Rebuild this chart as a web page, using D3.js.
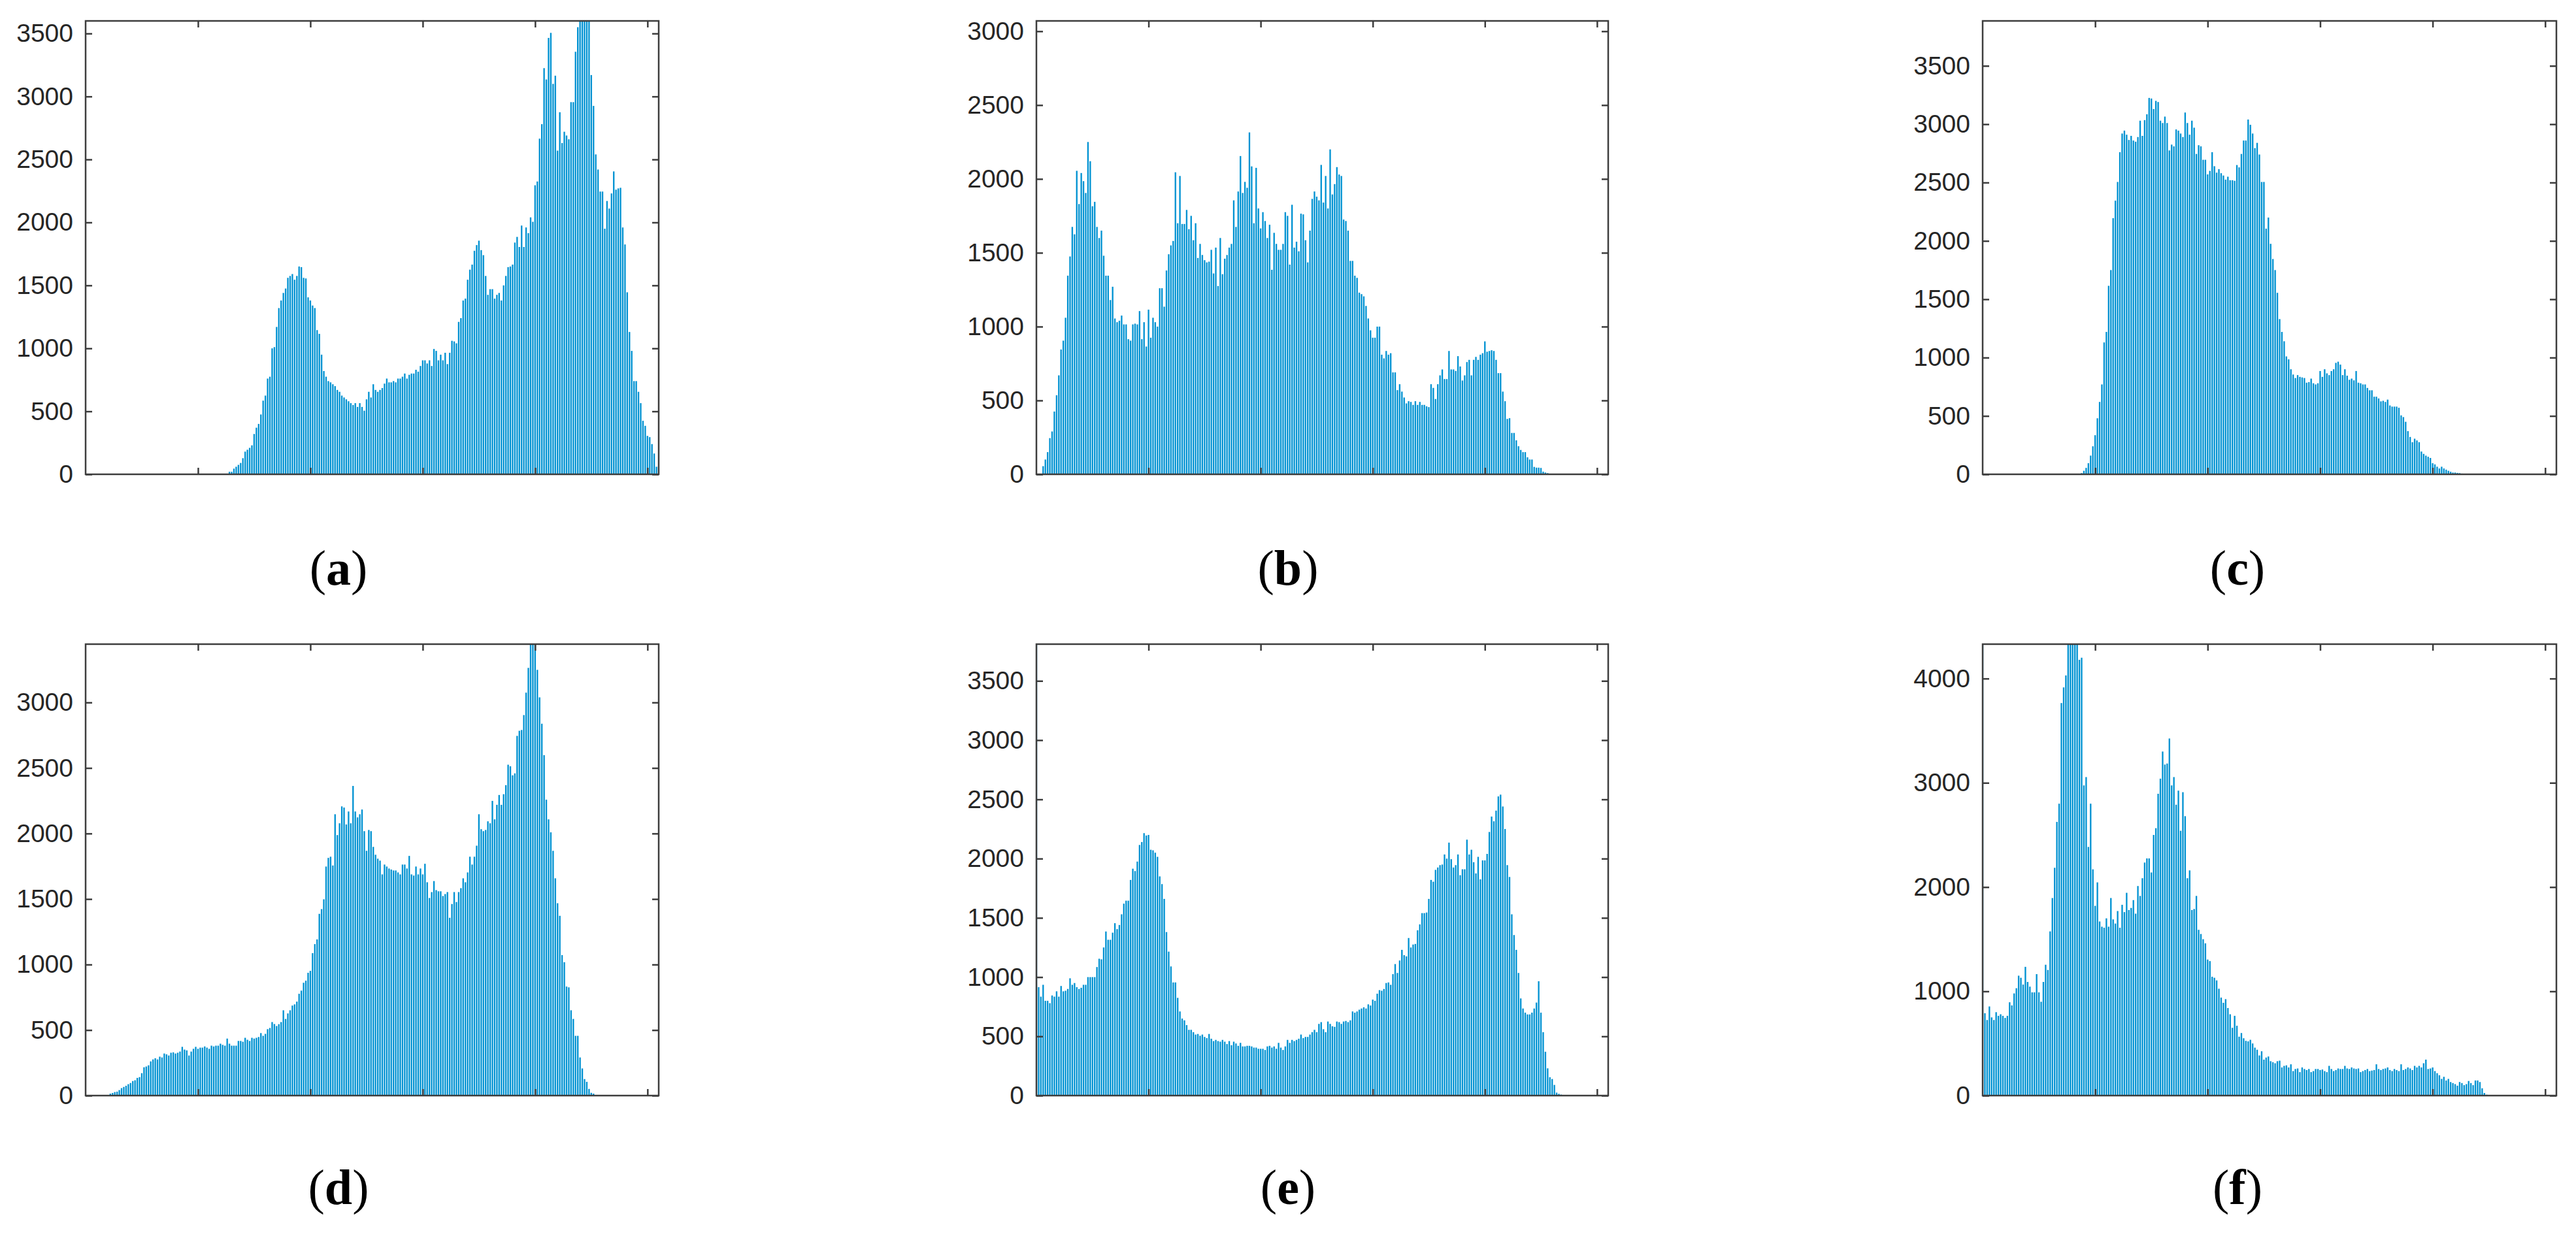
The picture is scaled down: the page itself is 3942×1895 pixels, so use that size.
<!DOCTYPE html>
<html>

<head>
    <meta charset="utf-8">
    <script src="https://d3js.org/d3.v7.min.js"></script>
    <style>
        body {
            margin: 0;
            background-color: #ffffff;
        }

        .tick text {
            font-family: 'Liberation Sans', Arial, sans-serif;
            font-size: 39px;
            fill: #262626;
        }

        .panel-label {
            font-family: 'Liberation Serif', 'Times New Roman', serif;
            font-size: 76px;
            fill: #000000;
        }
    </style>
    <title>Histograms</title>
</head>

<body>
    <svg id="figure" width="3942" height="1895"></svg>

    <script>
        // histogram counts per grey level, each list starts at its first non-empty bin
        const panelNames = ["a", "b", "c", "d", "e", "f"];

        const startA = 64;
        const countsA = [20, 20, 45, 60, 75, 90, 128, 180, 195, 210, 230, 320, 370, 400, 475, 585, 625, 760, 775, 1000,
            1010, 1170, 1320, 1380, 1440, 1475, 1560, 1575, 1590, 1545, 1575, 1650, 1645, 1560, 1555, 1405, 1380, 1340, 1320, 1145,
            1115, 950, 820, 775, 740, 730, 715, 700, 670, 655, 625, 610, 595, 580, 565, 550, 565, 535, 565, 535,
            505, 595, 655, 610, 715, 670, 655, 670, 685, 720, 760, 730, 730, 740, 730, 760, 760, 775, 800, 760,
            790, 800, 800, 830, 815, 860, 905, 905, 880, 905, 860, 995, 980, 905, 950, 905, 965, 875, 965, 1060,
            1055, 1040, 1210, 1240, 1380, 1395, 1545, 1625, 1665, 1775, 1820, 1855, 1780, 1740, 1575, 1425, 1470, 1470, 1395, 1425,
            1440, 1380, 1500, 1575, 1645, 1650, 1665, 1840, 1885, 1805, 1975, 1805, 1960, 1915, 2040, 2005, 2295, 2325, 2665, 2780,
            3225, 3135, 3465, 3505, 3100, 3165, 2570, 2875, 2630, 2720, 2690, 2660, 2955, 2955, 3355, 3550, 3600, 3600, 3600, 3600,
            3600, 3170, 2925, 2540, 2420, 2245, 2245, 1950, 2170, 2110, 2230, 2405, 2260, 2270, 2275, 1960, 1825, 1445, 1130, 980,
            740, 740, 655, 565, 425, 385, 305, 295, 240, 165, 60, 60];

        const startB = 3;
        const countsB = [55, 100, 150, 245, 290, 425, 535, 670, 845, 905, 1060, 1345, 1475, 1675, 1625, 2055, 1830, 2040, 1985, 1905,
            2250, 2120, 1815, 1845, 1675, 1600, 1650, 1480, 1345, 1345, 1180, 1270, 1055, 1030, 1040, 1075, 1015, 1015, 915, 905,
            1015, 1020, 1015, 1105, 915, 1030, 865, 1115, 925, 1060, 1030, 1000, 1260, 1260, 1135, 1380, 1490, 1550, 1580, 2045,
            1700, 2020, 1695, 1695, 1790, 1660, 1750, 1585, 1700, 1465, 1560, 1485, 1450, 1435, 1440, 1520, 1360, 1535, 1275, 1600,
            1355, 1460, 1485, 1535, 1560, 1855, 1675, 1915, 2155, 1905, 1980, 1940, 2315, 2085, 1700, 2075, 1800, 1665, 1775, 1715,
            1600, 1690, 1385, 1635, 1560, 1520, 1520, 1560, 1775, 1750, 1420, 1825, 1535, 1575, 1510, 1765, 1760, 1585, 1435, 1650,
            1865, 1915, 1880, 1855, 2095, 1840, 2020, 1800, 2200, 1895, 1965, 2080, 2030, 2020, 1725, 1715, 1650, 1445, 1445, 1345,
            1330, 1230, 1220, 1205, 1140, 1055, 975, 925, 925, 1000, 1000, 810, 785, 835, 810, 820, 690, 690, 570, 610,
            560, 520, 480, 495, 490, 470, 495, 470, 490, 470, 470, 460, 455, 610, 585, 510, 610, 670, 710, 645,
            645, 835, 710, 710, 700, 800, 730, 635, 670, 760, 775, 670, 775, 795, 775, 810, 820, 900, 830, 835,
            840, 835, 775, 685, 685, 560, 495, 375, 380, 280, 280, 230, 190, 165, 150, 150, 115, 100, 100, 50,
            45, 45, 43, 18, 12, 8];

        const startC = 44;
        const countsC = [10, 30, 55, 95, 160, 240, 335, 480, 620, 770, 1130, 1220, 1615, 1750, 2195, 2345, 2505, 2760, 2920, 2945,
            2910, 2865, 2900, 2860, 2850, 2890, 3030, 2900, 3035, 3085, 3225, 3220, 3130, 3200, 3190, 3030, 3010, 3065, 3010, 2775,
            2825, 2810, 2955, 2945, 2920, 2890, 3100, 3010, 2910, 3030, 2970, 2745, 2820, 2810, 2695, 2695, 2570, 2600, 2760, 2640,
            2585, 2615, 2580, 2560, 2525, 2550, 2520, 2520, 2515, 2650, 2630, 2745, 2860, 2860, 3040, 2995, 2920, 2795, 2840, 2740,
            2505, 2505, 2105, 2200, 1975, 1845, 1750, 1555, 1330, 1220, 1140, 1010, 985, 900, 855, 825, 850, 835, 830, 825,
            785, 790, 820, 780, 770, 780, 885, 835, 900, 865, 850, 885, 900, 955, 965, 940, 850, 900, 845, 810,
            820, 805, 885, 785, 780, 770, 770, 740, 720, 720, 665, 665, 650, 625, 630, 620, 640, 590, 580, 580,
            580, 570, 505, 490, 450, 370, 320, 275, 305, 290, 275, 195, 175, 160, 150, 140, 95, 85, 65, 50,
            65, 50, 40, 30, 22, 15, 15, 12, 10, 6];

        const startD = 11;
        const countsD = [15, 20, 27, 30, 42, 57, 66, 75, 87, 96, 111, 117, 135, 141, 171, 216, 222, 231, 261, 276,
            285, 276, 297, 291, 321, 315, 306, 327, 330, 321, 327, 336, 372, 351, 345, 306, 336, 357, 372, 357,
            366, 366, 375, 366, 357, 381, 375, 381, 381, 396, 387, 381, 435, 396, 381, 381, 381, 417, 417, 411,
            441, 426, 417, 441, 435, 441, 447, 477, 456, 471, 507, 516, 561, 546, 531, 545, 561, 651, 585, 627,
            651, 687, 696, 717, 777, 801, 861, 877, 937, 952, 1087, 1156, 1192, 1387, 1423, 1498, 1748, 1814, 1823, 1756,
            2147, 1988, 2078, 2207, 2198, 2069, 2168, 2078, 2363, 2168, 2123, 2147, 2183, 2018, 1868, 2027, 2018, 1898, 1838, 1808,
            1793, 1688, 1763, 1748, 1733, 1725, 1718, 1718, 1703, 1688, 1763, 1763, 1733, 1829, 1688, 1679, 1748, 1688, 1733, 1688,
            1769, 1628, 1508, 1553, 1637, 1568, 1559, 1559, 1523, 1538, 1553, 1357, 1462, 1553, 1477, 1553, 1583, 1658, 1628, 1703,
            1823, 1763, 1823, 1907, 2147, 2033, 2018, 2027, 2093, 2078, 2249, 2108, 2219, 2294, 2219, 2300, 2369, 2525, 2513, 2444,
            2459, 2745, 2784, 2790, 2904, 3075, 3264, 3445, 3445, 3445, 3249, 3039, 2838, 2598, 2258, 2108, 2009, 1868, 1658, 1468,
            1372, 1072, 1018, 832, 826, 651, 585, 456, 456, 291, 207, 126, 105, 51, 21, 15];

        const startE = 0;
        const countsE = [3810, 915, 835, 935, 800, 800, 780, 845, 835, 880, 835, 925, 880, 885, 900, 990, 935, 950, 915, 900,
            910, 935, 935, 1000, 1000, 1000, 1000, 1085, 1155, 1150, 1250, 1385, 1315, 1315, 1375, 1455, 1405, 1440, 1530, 1620,
            1645, 1645, 1820, 1915, 1895, 1975, 2115, 2140, 2215, 2195, 2200, 2075, 2070, 2050, 2015, 1850, 1785, 1660, 1380, 1215,
            1090, 955, 955, 825, 710, 650, 635, 595, 555, 555, 535, 515, 520, 505, 515, 495, 485, 520, 480, 460,
            470, 460, 455, 470, 455, 435, 460, 425, 455, 440, 420, 445, 415, 415, 420, 420, 415, 405, 405, 395,
            395, 395, 385, 415, 420, 405, 415, 395, 445, 405, 385, 415, 470, 445, 470, 460, 470, 480, 515, 485,
            495, 495, 515, 535, 555, 535, 605, 620, 560, 535, 625, 605, 585, 580, 625, 620, 605, 625, 630, 620,
            635, 710, 700, 710, 725, 735, 745, 735, 770, 760, 810, 800, 860, 890, 885, 900, 950, 955, 935, 1025,
            1110, 1035, 1140, 1230, 1185, 1175, 1330, 1250, 1275, 1280, 1395, 1445, 1540, 1540, 1545, 1660, 1820, 1805, 1905, 1925,
            1945, 1950, 2035, 2000, 2135, 1995, 1925, 1945, 2035, 1860, 1910, 1910, 2160, 2035, 2075, 1970, 1875, 2015, 1825, 1985,
            1985, 2040, 2225, 2355, 2315, 2405, 2525, 2540, 2440, 2250, 1945, 1845, 1530, 1355, 1230, 1035, 820, 735, 700, 685,
            685, 700, 735, 785, 965, 700, 535, 370, 230, 155, 140, 90, 25, 15, 8];

        const startF = 0;
        const countsF = [4330, 790, 725, 855, 750, 725, 800, 765, 780, 765, 745, 765, 895, 865, 980, 1030, 1150, 1130, 1065, 1235,
            1090, 1045, 990, 990, 1165, 990, 900, 1090, 1255, 1205, 1575, 1895, 2185, 2625, 2800, 3765, 3915, 4030, 4330, 4330,
            4330, 4330, 4330, 4180, 4200, 2975, 3055, 2385, 2800, 2170, 1820, 2045, 1670, 1620, 1610, 1700, 1620, 1895, 1690, 1650,
            1770, 1610, 1830, 1760, 1945, 1780, 1800, 1875, 1745, 2010, 1915, 2085, 2235, 2275, 2275, 2140, 2500, 2565, 2895, 3040,
            3300, 3175, 3185, 3425, 2975, 3055, 2790, 2925, 2540, 2910, 2680, 2085, 2160, 1780, 1790, 1915, 1590, 1550, 1500, 1460,
            1305, 1290, 1140, 1130, 1105, 1025, 940, 890, 925, 840, 780, 650, 765, 670, 565, 600, 550, 525, 520, 535,
            500, 460, 440, 385, 425, 345, 365, 375, 330, 320, 310, 330, 335, 270, 285, 290, 270, 300, 235, 255,
            260, 225, 270, 255, 245, 255, 225, 235, 255, 255, 245, 250, 235, 225, 285, 255, 235, 245, 260, 255,
            255, 285, 260, 255, 270, 260, 255, 260, 225, 235, 245, 255, 235, 240, 245, 300, 255, 245, 255, 260,
            270, 245, 235, 255, 245, 235, 300, 245, 255, 270, 260, 245, 285, 270, 285, 270, 310, 345, 255, 260,
            270, 235, 215, 195, 160, 180, 145, 160, 130, 120, 110, 95, 130, 120, 100, 110, 140, 120, 100, 145,
            145, 130, 70, 25, 8];

        const yMaxes = [3600, 3070, 3885, 3445, 3810, 4330];
        const yTicksA = [0, 500, 1000, 1500, 2000, 2500, 3000, 3500];
        const yTicksB = [0, 500, 1000, 1500, 2000, 2500, 3000];
        const yTicksC = [0, 500, 1000, 1500, 2000, 2500, 3000, 3500];
        const yTicksD = [0, 500, 1000, 1500, 2000, 2500, 3000];
        const yTicksE = [0, 500, 1000, 1500, 2000, 2500, 3000, 3500];
        const yTicksF = [0, 1000, 2000, 3000, 4000];
        const xTicks = [50, 100, 150, 200, 250];

        var canvas = d3.select("#figure");

        // plot boxes, pixels
        var colLeft = [131, 1586, 3034];
        var colRight = [1008, 2461, 3912];
        var rowTop = [32, 986];
        var rowBottom = [726, 1677];
        var labelX = [518, 1971, 3424];
        var labelBase = [895, 1843];

        var barColor = "#0092d2";
        var axisColor = "#3d3d3d";

        function drawPanel(idx, start, counts, yMax, yTicks) {
            var col = idx % 3;
            var row = Math.floor(idx / 3);
            var left = colLeft[col], right = colRight[col];
            var top = rowTop[row], bottom = rowBottom[row];

            var xScale = d3.scaleLinear()
                .domain([0, 255])
                .range([left, right]);
            var yScale = d3.scaleLinear()
                .domain([0, yMax])
                .range([bottom, top]);

            var barW = (right - left) / 255 * 0.68;

            var group = canvas.append("g");

            group.append("clipPath")
                .attr("id", "clip" + idx)
                .append("rect")
                .attr("x", left)
                .attr("y", top)
                .attr("width", right - left)
                .attr("height", bottom - top);

            group.append("g")
                .attr("clip-path", "url(#clip" + idx + ")")
                .selectAll("rect")
                .data(counts)
                .enter()
                .append("rect")
                .attr("x", function (d, i) {
                    return xScale(start + i) - barW / 2;
                })
                .attr("y", function (d) {
                    return yScale(d);
                })
                .attr("width", barW)
                .attr("height", function (d) {
                    return yScale(0) - yScale(d);
                })
                .style("fill", barColor);

            // inward ticks on all four sides, labels only on the left
            var yLeft = group.append("g")
                .attr("transform", "translate(" + left + ",0)")
                .call(d3.axisLeft(yScale)
                    .tickValues(yTicks)
                    .tickSizeInner(-10)
                    .tickSizeOuter(0)
                    .tickPadding(19)
                    .tickFormat(d3.format("d")));

            var yRight = group.append("g")
                .attr("transform", "translate(" + right + ",0)")
                .call(d3.axisRight(yScale)
                    .tickValues(yTicks)
                    .tickSizeInner(-10)
                    .tickSizeOuter(0)
                    .tickFormat(""));

            var xBottom = group.append("g")
                .attr("transform", "translate(0," + bottom + ")")
                .call(d3.axisBottom(xScale)
                    .tickValues(xTicks)
                    .tickSizeInner(-10)
                    .tickSizeOuter(0)
                    .tickFormat(""));

            var xTop = group.append("g")
                .attr("transform", "translate(0," + top + ")")
                .call(d3.axisTop(xScale)
                    .tickValues(xTicks)
                    .tickSizeInner(-10)
                    .tickSizeOuter(0)
                    .tickFormat(""));

            [yLeft, yRight, xBottom, xTop].forEach(function (ax) {
                ax.select(".domain").remove();
                ax.selectAll("line")
                    .style("stroke", axisColor)
                    .style("stroke-width", "2.5px");
                ax.attr("font-family", null).attr("font-size", null);
            });

            group.append("rect")
                .attr("x", left)
                .attr("y", top)
                .attr("width", right - left)
                .attr("height", bottom - top)
                .style("fill", "none")
                .style("stroke", axisColor)
                .style("stroke-width", "2.5px");

            var label = group.append("text")
                .attr("class", "panel-label")
                .attr("x", labelX[col])
                .attr("y", labelBase[row])
                .attr("text-anchor", "middle");
            label.append("tspan").text("(");
            label.append("tspan").style("font-weight", "bold").text(panelNames[idx]);
            label.append("tspan").text(")");
        }

        drawPanel(0, startA, countsA, yMaxes[0], yTicksA);
        drawPanel(1, startB, countsB, yMaxes[1], yTicksB);
        drawPanel(2, startC, countsC, yMaxes[2], yTicksC);
        drawPanel(3, startD, countsD, yMaxes[3], yTicksD);
        drawPanel(4, startE, countsE, yMaxes[4], yTicksE);
        drawPanel(5, startF, countsF, yMaxes[5], yTicksF);
    </script>
</body>

</html>
